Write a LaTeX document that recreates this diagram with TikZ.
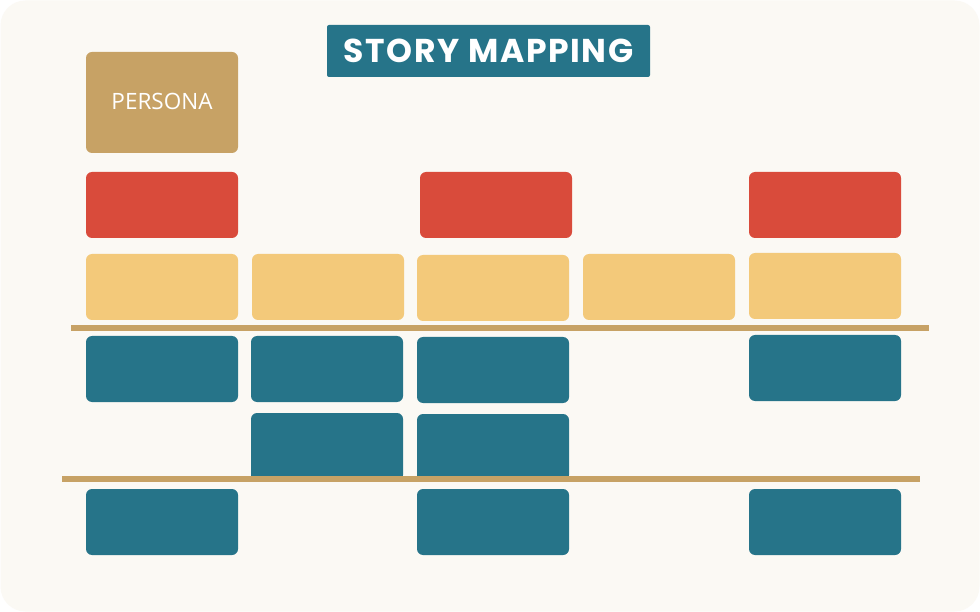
\documentclass[tikz,border=0pt]{standalone}
\usepackage{fontspec}
\newfontfamily\titlefont{Poppins}[UprightFont=* Bold, LetterSpace=5]
\newfontfamily\personafont{Open Sans}
\definecolor{bgc}{HTML}{FBF9F4}
\definecolor{gold}{HTML}{C7A265}
\definecolor{redc}{HTML}{D94B3B}
\definecolor{yel}{HTML}{F3C97A}
\definecolor{teal}{HTML}{267489}
\tikzset{
  card/.style={rectangle, rounded corners=6pt, minimum width=152pt, minimum height=66pt, inner sep=0pt, outer sep=0pt, draw=none},
  shelf/.style={draw=gold, line width=6pt},
}
\begin{document}
\begin{tikzpicture}[x=1pt,y=-1pt]
\useasboundingbox (0,0) rectangle (980,612);
\fill[white] (0,0) rectangle (980,612);
\fill[bgc, rounded corners=25pt] (0.5,0.5) rectangle (979.5,611.5);
% title
\node[fill=teal, minimum width=323pt, minimum height=52pt, inner sep=0pt, rounded corners=2pt, text=white, font=\titlefont\fontsize{33}{33}\selectfont] (title) at (488.5,51) {STORY MAPPING};
% persona
\node[card, fill=gold, minimum height=101pt, text=white, font=\personafont\fontsize{22.5}{22.5}\selectfont] (persona) at (162,102.5) {\raisebox{3pt}{PERSONA}};
% red row
\node[card, fill=redc] (r1) at (162,205) {};
\node[card, fill=redc] (r3) at (496,205) {};
\node[card, fill=redc] (r5) at (825,205) {};
% yellow row
\node[card, fill=yel] (y1) at (162,287) {};
\node[card, fill=yel] (y2) at (328,287) {};
\node[card, fill=yel] (y3) at (493,288) {};
\node[card, fill=yel] (y4) at (659,287) {};
\node[card, fill=yel] (y5) at (825,286) {};
% shelf 1
\coordinate (s1a) at (71,328);
\coordinate (s1b) at (929,328);
\draw[shelf] (s1a) -- (s1b);
% teal row 1
\node[card, fill=teal] (t1) at (162,369) {};
\node[card, fill=teal] (t2) at (327,369) {};
\node[card, fill=teal] (t3) at (493,370) {};
\node[card, fill=teal] (t5) at (825,368) {};
% teal row 2
\node[card, fill=teal, minimum height=68pt] (u2) at (327,447) {};
\node[card, fill=teal, minimum height=67pt] (u3) at (493,447.5) {};
% shelf 2
\coordinate (s2a) at (62,479);
\coordinate (s2b) at (920,479);
\draw[shelf] (s2a) -- (s2b);
% teal row 3
\node[card, fill=teal] (v1) at (162,522) {};
\node[card, fill=teal] (v3) at (493,522) {};
\node[card, fill=teal] (v5) at (825,522) {};
\end{tikzpicture}
\end{document}
